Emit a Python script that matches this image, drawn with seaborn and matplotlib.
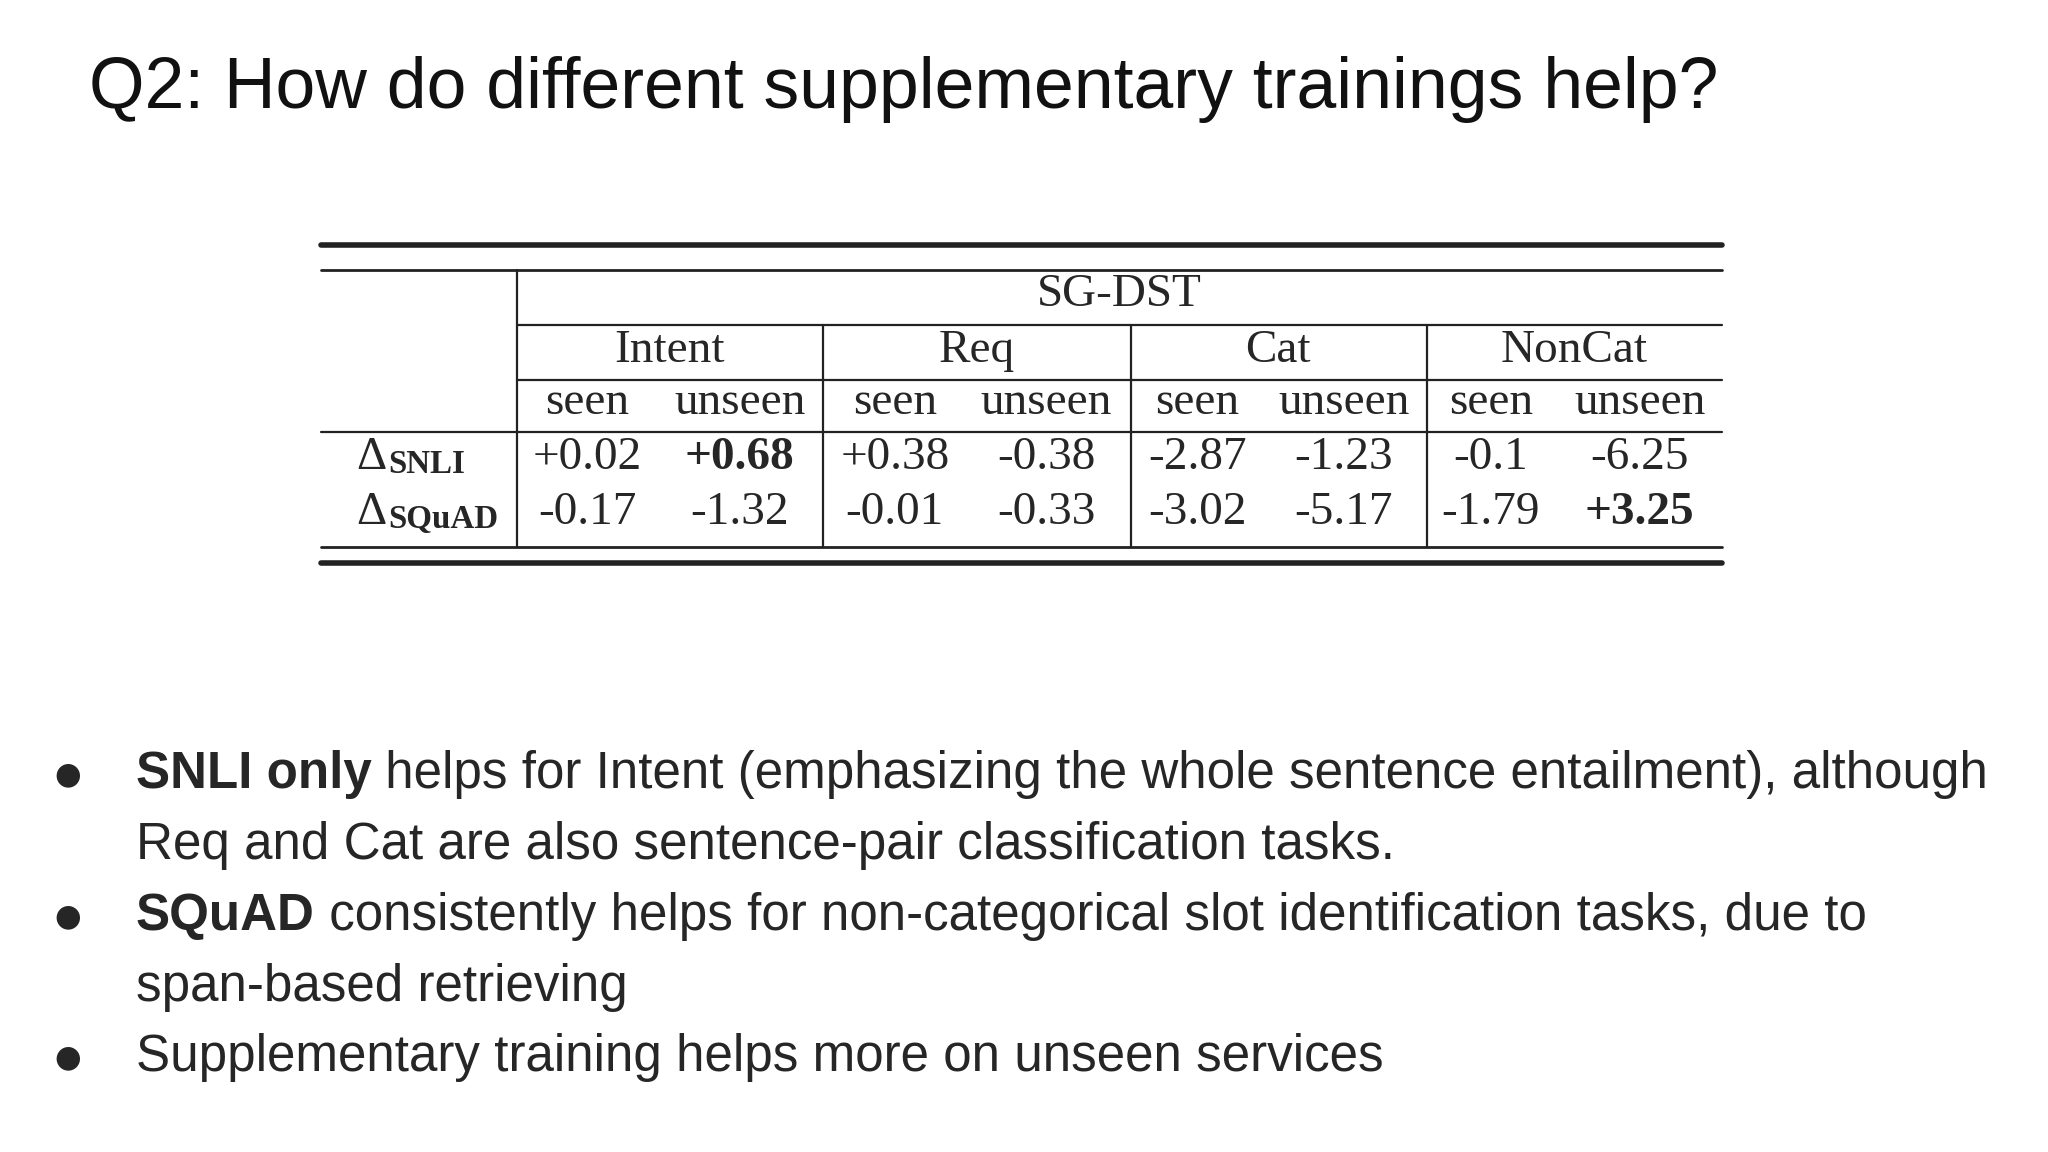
import matplotlib
matplotlib.use("Agg")
import matplotlib.pyplot as plt
import seaborn as sns

title = "Q2: How do different supplementary trainings help?"
group_header = "SG-DST"
tasks = ["Intent", "Req", "Cat", "NonCat"]
splits = ["seen", "unseen"]
row_labels = ["SNLI", "SQuAD"]
values = [["+0.02", "+0.68", "+0.38", "-0.38", "-2.87", "-1.23", "-0.1", "-6.25"],
          ["-0.17", "-1.32", "-0.01", "-0.33", "-3.02", "-5.17", "-1.79", "+3.25"]]
bold_cells = [(0, 1), (1, 7)]
bullets = [("SNLI only", " helps for Intent (emphasizing the whole sentence entailment), although",
            "Req and Cat are also sentence-pair classification tasks."),
           ("SQuAD", " consistently helps for non-categorical slot identification tasks, due to",
            "span-based retrieving"),
           ("", "Supplementary training helps more on unseen services", None)]

sns.set_theme(style="white")
plt.rcParams['font.family'] = ['Liberation Sans', 'DejaVu Sans']
fig = plt.figure(figsize=(20.48, 11.52), dpi=100)
ax = fig.add_axes([0, 0, 1, 1])
ax.set_xlim(0, 1570); ax.set_ylim(880, 0); ax.axis("off")

ax.text(68, 68, title, fontsize=51.5, va="center", ha="left", color="#111")

serif = ['Liberation Serif', 'DejaVu Serif']
fs = 34
ax.plot([246, 1320], [187, 187], color="#222", lw=4)
ax.plot([246, 1320], [206, 206], color="#222", lw=2)
ax.plot([396, 1320], [248, 248], color="#222", lw=1.6)
ax.plot([396, 1320], [290, 290], color="#222", lw=1.6)
ax.plot([246, 1320], [330, 330], color="#222", lw=1.6)
ax.plot([246, 1320], [418, 418], color="#222", lw=2)
ax.plot([246, 1320], [430, 430], color="#222", lw=4)
ax.plot([396, 396], [206, 418], color="#222", lw=1.6)
for x in [631, 867, 1094]:
    ax.plot([x, x], [248, 418], color="#222", lw=1.6)

ax.text(858, 225, "SG-DST", family=serif, fontsize=fs, ha="center", va="center")
task_x = [513, 749, 980, 1207]
col_x = [450, 567, 686, 802, 918, 1030, 1143, 1257]
for t, x in zip(tasks, task_x):
    ax.text(x, 268, t, family=serif, fontsize=fs, ha="center", va="center")
for i, x in enumerate(col_x):
    ax.text(x, 308, splits[i % 2], family=serif, fontsize=fs, ha="center", va="center")
row_y = [350, 392]
for r, (lab, y) in enumerate(zip(row_labels, row_y)):
    ax.text(296, y, "Δ", family=serif, fontsize=fs, ha="right", va="center")
    ax.text(298, y + 5, lab, family=serif, fontsize=fs * 0.7, ha="left", va="center",
            fontweight="bold")
    for c, x in enumerate(col_x):
        ax.text(x, y, values[r][c], family=serif, fontsize=fs, ha="center", va="center",
                fontweight="bold" if (r, c) in bold_cells else "normal")

fig.canvas.draw()
rnd = fig.canvas.get_renderer()
bfs = 36.8
ys = [592, 700, 808]
for (b, rest, cont), y in zip(bullets, ys):
    ax.text(52, y, "●", fontsize=bfs * 0.6, ha="center", va="center", family="DejaVu Sans")
    x0 = 104
    if b:
        t = ax.text(x0, y, b, fontsize=bfs, fontweight="bold", ha="left", va="center")
        bb = t.get_window_extent(rnd)
        x0 = ax.transData.inverted().transform((bb.x1, bb.y0))[0]
    ax.text(x0, y, rest, fontsize=bfs, ha="left", va="center")
    if cont:
        ax.text(104, y + 54, cont, fontsize=bfs, ha="left", va="center")

fig.savefig("out.png", dpi=100, facecolor="white")
